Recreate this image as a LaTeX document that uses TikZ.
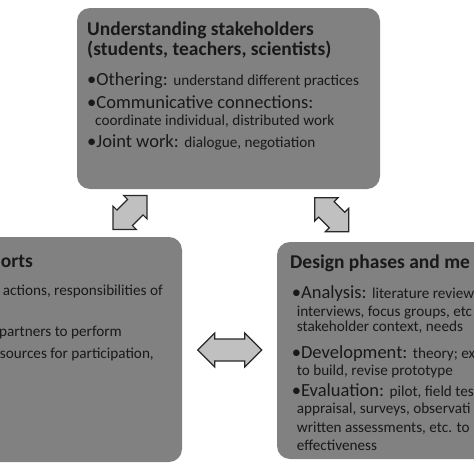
\documentclass[tikz,border=0pt]{standalone}
\usepackage{fontspec}
\setmainfont{Carlito}
\definecolor{boxfill}{RGB}{129,129,129}
\definecolor{arrfill}{RGB}{192,192,192}
\definecolor{arrline}{RGB}{40,40,40}
\newcommand{\ttl}{\fontsize{19.5}{23}\selectfont\bfseries}
\newcommand{\kw}{\fontsize{18.5}{22}\selectfont}
\newcommand{\ds}{\fontsize{15.2}{18}\selectfont}
\newcommand{\dblarr}[4]{%
  \draw[fatarrow,shift={#1},rotate=#2] (-#3,0) -- ({-#3+#4},{-#4}) -- ({-#3+#4},-11) -- ({#3-#4},-11) -- ({#3-#4},{-#4}) -- (#3,0) -- ({#3-#4},{#4}) -- ({#3-#4},11) -- ({-#3+#4},11) -- ({-#3+#4},{#4}) -- cycle;}
\begin{document}
\begin{tikzpicture}[x=1pt,y=-1pt,
  panel/.style={fill=boxfill,rounded corners=13pt,inner sep=0pt},
  fatarrow/.style={draw=arrline,line width=1.2pt,fill=arrfill,line join=miter},
  line/.style={anchor=base west,inner sep=0pt,text=black!90},
  rline/.style={anchor=base east,inner sep=0pt,text=black!90}]
\useasboundingbox (0,0) rectangle (474,474);
\fill[white] (0,0) rectangle (474,474);
\clip (0,0) rectangle (474,474);
% panels
\node[panel,minimum width=303pt,minimum height=181pt] (top) at (228.5,98.5) {};
\node[panel,minimum width=302pt,minimum height=225pt] (left) at (31,349.5) {};
\node[panel,minimum width=303pt,minimum height=217pt] (right) at (428.5,350.5) {};
% top panel text
\node[line] (t1) at (87,35) {\ttl Understanding stakeholders};
\node[line] (t2) at (87,55) {\ttl (students, teachers, scientists)};
\node[line] (t3) at (87,85) {\kw •Othering: \ds understand different practices};
\node[line] (t4) at (87,108) {\kw •Communicative connections:};
\node[line] (t5) at (95,125) {\ds coordinate individual, distributed work};
\node[line] (t6) at (87,147) {\kw •Joint work: \ds dialogue, negotiation};
% left panel text
\node[rline] (l1) at (33,267) {\ttl orts};
\node[rline] (l2) at (163,295) {\ds actions, responsibilities of};
\node[rline] (l3) at (122,336.7) {\ds partners to perform};
\node[rline] (l4) at (154,358) {\ds sources for participation,};
% right panel text
\node[line] (r1) at (290,268.3) {\ttl Design phases and me};
\node[line] (r2) at (291.7,298.3) {\kw •Analysis: \ds literature review;};
\node[line] (r3) at (296.7,316) {\ds interviews, focus groups, etc};
\node[line] (r4) at (296.7,331.7) {\ds stakeholder context, needs};
\node[line] (r5) at (291.7,358.3) {\kw •Development: \ds theory; exa};
\node[line] (r6) at (296.7,375) {\ds to build, revise prototype};
\node[line] (r7) at (291.7,396.7) {\kw •Evaluation: \ds pilot, field test};
\node[line] (r8) at (296.7,413.3) {\ds appraisal, surveys, observati};
\node[line] (r9) at (296.7,432.7) {\ds written assessments, etc. to};
\node[line] (r10) at (296.7,450) {\ds effectiveness};
% double arrows
\dblarr{(130,212.5)}{45}{24}{16.5}
\dblarr{(331.7,214.7)}{-45}{24}{16.5}
\dblarr{(229.7,350)}{0}{32}{17}
\end{tikzpicture}
\end{document}
